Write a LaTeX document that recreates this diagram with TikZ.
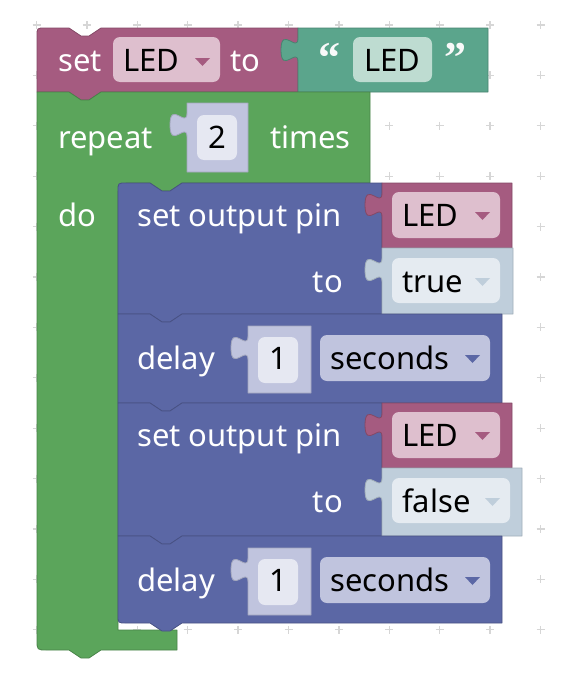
\documentclass[tikz,border=0pt]{standalone}
\usepackage{fontspec}
\setmainfont{Noto Sans}
\newfontfamily\comillafont{Liberation Serif}
\usepackage{tikz}

\definecolor{varcol}{HTML}{A55B80}
\definecolor{varclaro}{HTML}{DEBFCE}
\definecolor{textocol}{HTML}{5BA58C}
\definecolor{textoclaro}{HTML}{BEDCD1}
\definecolor{buclecol}{HTML}{5BA55B}
\definecolor{pincol}{HTML}{5B67A5}
\definecolor{numcol}{HTML}{C0C4DE}
\definecolor{numclaro}{HTML}{E6E8F2}
\definecolor{boolcol}{HTML}{BFCEDB}
\definecolor{boolclaro}{HTML}{E5EBF1}
\definecolor{cruzcol}{HTML}{D6D6D6}

% pestana de entrada (lado izquierdo, de abajo hacia arriba)
\newcommand{\pestana}[2]{.. controls (#1,#2+8) and (#1-17,#2+37) .. (#1-17,#2+12) .. controls (#1-17,#2-13) and (#1,#2+16) .. (#1,#2)}
% flecha del desplegable
\newcommand{\flecha}[3]{\fill[#3] (#1,#2) -- ++(15,0) -- ++(-7.5,8) -- cycle;}

\begin{document}
\begin{tikzpicture}[x=1pt, y=-1pt,
    bloque/.style={line width=0.8pt, line join=round},
    campo/.style={rounded corners=7pt},
    etiq/.style={anchor=base west, inner sep=0pt, text=white, font=\fontsize{31}{36}\selectfont},
    valor/.style={anchor=base west, inner sep=0pt, text=black, font=\fontsize{31}{36}\selectfont},
    valorc/.style={valor, anchor=base},
    comilla/.style={anchor=base, inner sep=0pt, text=white!95!gray, font=\fontsize{44}{48}\comillafont\bfseries},
    cruz/.style={cruzcol, line width=1.3pt}]

    % Fondo y rejilla de cruces
    \fill[white] (0,0) rectangle (560,680);
    \useasboundingbox (0,0) rectangle (560,680);
    \foreach \i in {0,...,10}
      \foreach \j in {0,...,12}
        \draw[cruz] (36.5+50.4*\i,25+50.4*\j) +(-4,0) -- +(4,0) +(0,-4) -- +(0,4);

    % --- BLOQUE "set LED to" ---
    \draw[bloque, fill=varcol, draw=varcol!80!black] (37,92) -- (37,36) .. controls (37,28) .. (45,28) -- (69,28) -- (81,36) -- (89,36) -- (101,28) -- (298,28) -- (298,92) -- (101,92) -- (89,100) -- (81,100) -- (69,92) -- cycle;

    % Bloque de texto "LED"
    \draw[bloque, fill=textocol, draw=textocol!80!black] (298,92) -- (298,62) \pestana{298}{38} -- (298,28) -- (488,28) -- (488,92) -- cycle;

    % --- BLOQUE "repeat" (forma en C) ---
    \draw[bloque, fill=buclecol, draw=buclecol!80!black] (37,92) -- (69,92) -- (81,100) -- (89,100) -- (101,92) -- (370,92) -- (370,183) -- (182,183) -- (170,191) -- (162,191) -- (150,183) -- (126,183) .. controls (126,191) .. (118,191) -- (118,630) -- (177,630) -- (177,650) -- (101,650) -- (89,658) -- (81,658) -- (69,650) -- (47,650) .. controls (37,650) .. (37,640) -- cycle;
    \draw[bloque, fill=numcol, draw=numcol!85!black] (187,172) -- (187,137) \pestana{187}{113} -- (187,103) -- (248,103) -- (248,172) -- cycle;

    % --- BLOQUES INTERIORES ---
    % 1. set output pin (true)
    \draw[bloque, fill=pincol, draw=pincol!80!black] (118,314) -- (118,191) .. controls (118,183) .. (126,183) -- (150,183) -- (162,191) -- (170,191) -- (182,183) -- (382,183) -- (382,314) -- (182,314) -- (170,322) -- (162,322) -- (150,314) -- cycle;
    \draw[bloque, fill=varcol, draw=varcol!80!black] (382,248) -- (382,217) \pestana{382}{193} -- (382,183) -- (512,183) -- (512,248) -- cycle;
    \draw[bloque, fill=boolcol, draw=boolcol!85!black] (382,314) -- (382,282) \pestana{382}{258} -- (382,248) -- (513,248) -- (513,314) -- cycle;

    % 2. delay
    \draw[bloque, fill=pincol, draw=pincol!80!black] (118,403) -- (118,314) -- (150,314) -- (162,322) -- (170,322) -- (182,314) -- (502,314) -- (502,403) -- (182,403) -- (170,411) -- (162,411) -- (150,403) -- cycle;
    \draw[bloque, fill=numcol, draw=numcol!85!black] (248,393) -- (248,360) \pestana{248}{336} -- (248,326) -- (311,326) -- (311,393) -- cycle;

    % 3. set output pin (false)
    \draw[bloque, fill=pincol, draw=pincol!80!black] (118,536) -- (118,403) -- (150,403) -- (162,411) -- (170,411) -- (182,403) -- (382,403) -- (382,536) -- (182,536) -- (170,544) -- (162,544) -- (150,536) -- cycle;
    \draw[bloque, fill=varcol, draw=varcol!80!black] (382,468) -- (382,437) \pestana{382}{413} -- (382,403) -- (512,403) -- (512,468) -- cycle;
    \draw[bloque, fill=boolcol, draw=boolcol!85!black] (382,536) -- (382,502) \pestana{382}{478} -- (382,468) -- (522,468) -- (522,536) -- cycle;

    % 4. delay
    \draw[bloque, fill=pincol, draw=pincol!80!black] (118,536) -- (150,536) -- (162,544) -- (170,544) -- (182,536) -- (502,536) -- (502,623) -- (182,623) -- (170,631) -- (162,631) -- (150,623) -- (126,623) .. controls (118,623) .. (118,615) -- cycle;
    \draw[bloque, fill=numcol, draw=numcol!85!black] (248,615) -- (248,582) \pestana{248}{558} -- (248,548) -- (311,548) -- (311,615) -- cycle;

    % --- CAMPOS ---
    \fill[campo, varclaro] (113,37) rectangle (220,82);
    \flecha{195}{58}{varcol}
    \fill[campo, textoclaro] (353,37) rectangle (432,82);
    \fill[campo, numclaro] (197,115) rectangle (237,160);
    \fill[campo, varclaro] (392,192) rectangle (500,238);
    \flecha{475}{212}{varcol}
    \fill[campo, boolclaro] (392,258) rectangle (500,303);
    \flecha{475}{278}{boolcol}
    \fill[campo, numclaro] (258,337) rectangle (298,383);
    \fill[campo, numcol] (320,335) rectangle (490,381);
    \flecha{465}{355}{pincol}
    \fill[campo, varclaro] (392,412) rectangle (500,458);
    \flecha{475}{432}{varcol}
    \fill[campo, boolclaro] (392,478) rectangle (510,523);
    \flecha{485}{498}{boolcol}
    \fill[campo, numclaro] (258,559) rectangle (298,605);
    \fill[campo, numcol] (320,557) rectangle (490,603);
    \flecha{465}{577}{pincol}

    % --- TEXTOS ---
    \node[etiq] (setTxt) at (58,71) {set};
    \node[valor] (ledA) at (123,71) {LED};
    \node[etiq] (toA) at (230,71) {to};
    \node[comilla] (comA) at (329,72) {“};
    \node[valorc] (ledB) at (392.5,71) {LED};
    \node[comilla] (comB) at (455,72) {”};

    \node[etiq] (repTxt) at (58,148) {repeat};
    \node[valorc] (numA) at (217,148) {2};
    \node[etiq] (timesTxt) at (270,148) {times};
    \node[etiq] (doTxt) at (58,226) {do};

    \node[etiq] (pinA) at (137,226) {set output pin};
    \node[etiq, anchor=base east] (toB) at (343,292) {to};
    \node[valor] (ledC) at (402,226) {LED};
    \node[valor] (trueTxt) at (402,292) {true};

    \node[etiq] (delayA) at (137,369) {delay};
    \node[valorc] (numB) at (278,369) {1};
    \node[valor] (segA) at (330,369) {seconds};

    \node[etiq] (pinB) at (137,446) {set output pin};
    \node[etiq, anchor=base east] (toC) at (343,512) {to};
    \node[valor] (ledD) at (402,446) {LED};
    \node[valor] (falseTxt) at (402,512) {false};

    \node[etiq] (delayB) at (137,591) {delay};
    \node[valorc] (numC) at (278,591) {1};
    \node[valor] (segB) at (330,591) {seconds};

\end{tikzpicture}
\end{document}
